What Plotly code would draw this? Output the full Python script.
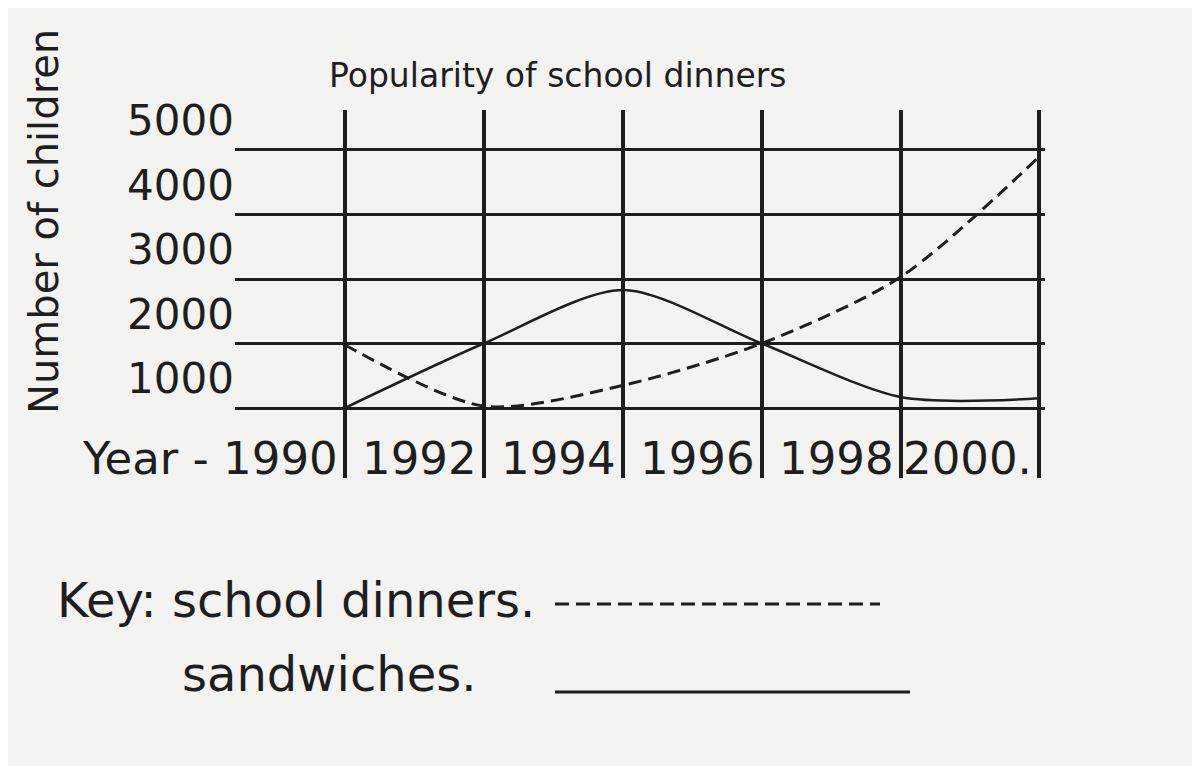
import plotly.graph_objects as go

years = [1990, 1992, 1994, 1996, 1998, 2000]
year_labels = ["Year - 1990", "1992", "1994", "1996", "1998", "2000."]
school_dinners = [1980, 1030, 1350, 2000, 3030, 4900]
sandwiches = [1000, 2000, 2830, 2000, 1170, 1150]
y_ticks = [1000, 2000, 3000, 4000, 5000]
y_labels = ["1000", "2000", "3000", "4000", "5000"]

INK = "#1e1e1e"
PAPER = "#f3f3f1"
FONT = "DejaVu Sans"

fig = go.Figure()
fig.add_trace(go.Scatter(x=years, y=school_dinners, mode="lines", name="school dinners",
                         line=dict(color=INK, width=3, dash="13px,7px", shape="spline", smoothing=0.8)))
fig.add_trace(go.Scatter(x=years, y=sandwiches, mode="lines", name="sandwiches",
                         line=dict(color=INK, width=2.5, shape="spline", smoothing=0.8)))

OFF = 8  # page body margin
W, H = 1200 - OFF, 766 - OFF
L, T = 235 - OFF, 110 - OFF
R = W - (1045 - OFF)
B = H - (478 - OFF)
pw, ph = W - L - R, H - T - B

def px(x):
    return (x - OFF - L) / pw

def py(y):
    return (H - B - (y - OFF)) / ph

fig.update_layout(
    width=W, height=H,
    margin=dict(l=L, r=R, t=T, b=B),
    paper_bgcolor=PAPER, plot_bgcolor=PAPER,
    showlegend=False,
    font=dict(family=FONT, color=INK),
    xaxis=dict(range=[1988.42, 2000.08], tickvals=years, showticklabels=False,
               showgrid=True, gridcolor=INK, gridwidth=4, zeroline=False,
               showline=False, ticks=""),
    yaxis=dict(range=[-85, 5620], tickvals=y_ticks, ticktext=y_labels,
               ticklabelposition="outside top", tickfont=dict(size=42, color=INK),
               showgrid=True, gridcolor=INK, gridwidth=3, zeroline=False,
               showline=False, ticks=""),
)

for yr, lab in zip(years, year_labels):
    fig.add_annotation(text=lab, xref="x", yref="paper", x=yr, y=py(458),
                       xanchor="right", yanchor="middle", xshift=-5, showarrow=False,
                       font=dict(size=45, color=INK))

fig.add_annotation(text="Popularity of school dinners", xref="paper", yref="paper",
                   x=px(557), y=py(75), xanchor="center", yanchor="middle",
                   showarrow=False, font=dict(size=33, color=INK))
fig.add_annotation(text="Number of children", xref="paper", yref="paper", textangle=-90,
                   x=px(44), y=py(222), xanchor="center", yanchor="middle",
                   showarrow=False, font=dict(size=40, color=INK))
fig.add_annotation(text="Key: school dinners.", xref="paper", yref="paper",
                   x=px(55), y=py(600), xanchor="left", yanchor="middle", showarrow=False,
                   font=dict(size=48, color=INK))
fig.add_annotation(text="sandwiches.", xref="paper", yref="paper",
                   x=px(180), y=py(674), xanchor="left", yanchor="middle", showarrow=False,
                   font=dict(size=48, color=INK))
fig.add_shape(type="line", xref="paper", yref="paper", x0=px(555), x1=px(880),
              y0=py(604), y1=py(604), line=dict(color=INK, width=3, dash="14px,7px"))
fig.add_shape(type="line", xref="paper", yref="paper", x0=px(555), x1=px(910),
              y0=py(692), y1=py(692), line=dict(color=INK, width=3))

fig.write_html("out.html")
